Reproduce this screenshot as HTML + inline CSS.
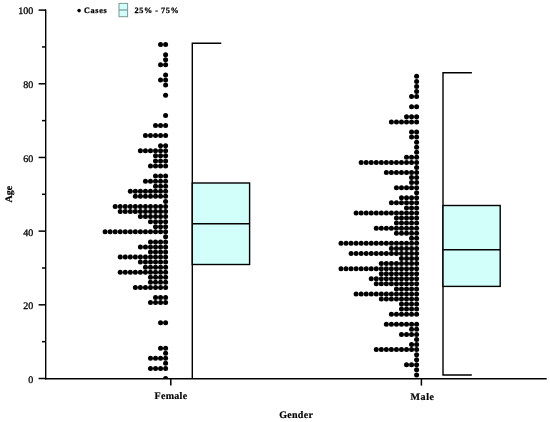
<!DOCTYPE html>
<html><head><meta charset="utf-8"><style>
html,body{margin:0;padding:0;background:#fff;width:550px;height:422px;overflow:hidden}
svg{display:block;text-rendering:geometricPrecision}
</style></head><body>
<svg width="550" height="422" viewBox="0 0 550 422">
<rect width="550" height="422" fill="#fff"/>
<g stroke="#000" stroke-width="1.5" fill="none">
<line x1="45.7" y1="9.5" x2="45.7" y2="379.5" stroke-width="1.4"/>
<line x1="45.2" y1="378.8" x2="546.7" y2="378.8"/>
<line x1="38.6" y1="378.50" x2="46" y2="378.50"/><line x1="42" y1="341.66" x2="46" y2="341.66"/><line x1="38.6" y1="304.82" x2="46" y2="304.82"/><line x1="42" y1="267.98" x2="46" y2="267.98"/><line x1="38.6" y1="231.14" x2="46" y2="231.14"/><line x1="42" y1="194.30" x2="46" y2="194.30"/><line x1="38.6" y1="157.46" x2="46" y2="157.46"/><line x1="42" y1="120.62" x2="46" y2="120.62"/><line x1="38.6" y1="83.78" x2="46" y2="83.78"/><line x1="42" y1="46.94" x2="46" y2="46.94"/><line x1="38.6" y1="10.10" x2="46" y2="10.10"/>
<line x1="170.8" y1="378.8" x2="170.8" y2="385.6"/>
<line x1="421.4" y1="378.8" x2="421.4" y2="385.6"/>
</g>
<g font-family="'Liberation Serif', serif" font-size="10" fill="#000" stroke="#000" stroke-width="0.3">
<text x="33.2" y="382.90" text-anchor="end">0</text><text x="33.2" y="309.22" text-anchor="end">20</text><text x="33.2" y="235.54" text-anchor="end">40</text><text x="33.2" y="161.86" text-anchor="end">60</text><text x="33.2" y="88.18" text-anchor="end">80</text><text x="33.2" y="13.50" text-anchor="end">100</text>
</g>
<g stroke="#000" stroke-width="1.4" fill="none">
<polyline points="221.3,43.2 192.3,43.2 192.3,378.8"/>
<rect x="192.3" y="183.0" width="57.3" height="81.5" fill="#d2fffa"/>
<line x1="192.3" y1="223.7" x2="249.6" y2="223.7"/>
<polyline points="471.9,72.8 443.0,72.8 443.0,375.0 471.8,375.0"/>
<rect x="443.0" y="205.5" width="57.2" height="80.9" fill="#d2fffa"/>
<line x1="443.0" y1="249.7" x2="500.1" y2="249.7"/>
</g>
<defs><clipPath id="pc"><rect x="46" y="0" width="504" height="378.3"/></clipPath></defs><g fill="#000" clip-path="url(#pc)"><circle cx="165.60" cy="44.54" r="2.5"/><circle cx="160.56" cy="44.54" r="2.5"/><circle cx="165.60" cy="54.66" r="2.5"/><circle cx="165.60" cy="59.72" r="2.5"/><circle cx="165.60" cy="64.78" r="2.5"/><circle cx="160.56" cy="64.78" r="2.5"/><circle cx="165.60" cy="74.90" r="2.5"/><circle cx="165.60" cy="79.96" r="2.5"/><circle cx="160.56" cy="79.96" r="2.5"/><circle cx="165.60" cy="85.02" r="2.5"/><circle cx="165.60" cy="95.14" r="2.5"/><circle cx="165.60" cy="115.38" r="2.5"/><circle cx="165.60" cy="125.50" r="2.5"/><circle cx="160.56" cy="125.50" r="2.5"/><circle cx="155.52" cy="125.50" r="2.5"/><circle cx="165.60" cy="135.62" r="2.5"/><circle cx="160.56" cy="135.62" r="2.5"/><circle cx="155.52" cy="135.62" r="2.5"/><circle cx="150.48" cy="135.62" r="2.5"/><circle cx="145.44" cy="135.62" r="2.5"/><circle cx="165.60" cy="145.74" r="2.5"/><circle cx="160.56" cy="145.74" r="2.5"/><circle cx="165.60" cy="150.80" r="2.5"/><circle cx="160.56" cy="150.80" r="2.5"/><circle cx="155.52" cy="150.80" r="2.5"/><circle cx="150.48" cy="150.80" r="2.5"/><circle cx="145.44" cy="150.80" r="2.5"/><circle cx="140.40" cy="150.80" r="2.5"/><circle cx="165.60" cy="155.86" r="2.5"/><circle cx="160.56" cy="155.86" r="2.5"/><circle cx="155.52" cy="155.86" r="2.5"/><circle cx="165.60" cy="160.92" r="2.5"/><circle cx="160.56" cy="160.92" r="2.5"/><circle cx="155.52" cy="160.92" r="2.5"/><circle cx="165.60" cy="165.98" r="2.5"/><circle cx="160.56" cy="165.98" r="2.5"/><circle cx="155.52" cy="165.98" r="2.5"/><circle cx="150.48" cy="165.98" r="2.5"/><circle cx="165.60" cy="176.10" r="2.5"/><circle cx="160.56" cy="176.10" r="2.5"/><circle cx="155.52" cy="176.10" r="2.5"/><circle cx="165.60" cy="181.16" r="2.5"/><circle cx="160.56" cy="181.16" r="2.5"/><circle cx="155.52" cy="181.16" r="2.5"/><circle cx="150.48" cy="181.16" r="2.5"/><circle cx="145.44" cy="181.16" r="2.5"/><circle cx="165.60" cy="186.22" r="2.5"/><circle cx="160.56" cy="186.22" r="2.5"/><circle cx="155.52" cy="186.22" r="2.5"/><circle cx="165.60" cy="191.28" r="2.5"/><circle cx="160.56" cy="191.28" r="2.5"/><circle cx="155.52" cy="191.28" r="2.5"/><circle cx="150.48" cy="191.28" r="2.5"/><circle cx="145.44" cy="191.28" r="2.5"/><circle cx="140.40" cy="191.28" r="2.5"/><circle cx="135.36" cy="191.28" r="2.5"/><circle cx="130.32" cy="191.28" r="2.5"/><circle cx="165.60" cy="196.34" r="2.5"/><circle cx="160.56" cy="196.34" r="2.5"/><circle cx="155.52" cy="196.34" r="2.5"/><circle cx="150.48" cy="196.34" r="2.5"/><circle cx="145.44" cy="196.34" r="2.5"/><circle cx="140.40" cy="196.34" r="2.5"/><circle cx="135.36" cy="196.34" r="2.5"/><circle cx="165.60" cy="201.40" r="2.5"/><circle cx="165.60" cy="206.46" r="2.5"/><circle cx="160.56" cy="206.46" r="2.5"/><circle cx="155.52" cy="206.46" r="2.5"/><circle cx="150.48" cy="206.46" r="2.5"/><circle cx="145.44" cy="206.46" r="2.5"/><circle cx="140.40" cy="206.46" r="2.5"/><circle cx="135.36" cy="206.46" r="2.5"/><circle cx="130.32" cy="206.46" r="2.5"/><circle cx="125.28" cy="206.46" r="2.5"/><circle cx="120.24" cy="206.46" r="2.5"/><circle cx="115.20" cy="206.46" r="2.5"/><circle cx="165.60" cy="211.52" r="2.5"/><circle cx="160.56" cy="211.52" r="2.5"/><circle cx="155.52" cy="211.52" r="2.5"/><circle cx="150.48" cy="211.52" r="2.5"/><circle cx="145.44" cy="211.52" r="2.5"/><circle cx="140.40" cy="211.52" r="2.5"/><circle cx="135.36" cy="211.52" r="2.5"/><circle cx="130.32" cy="211.52" r="2.5"/><circle cx="125.28" cy="211.52" r="2.5"/><circle cx="120.24" cy="211.52" r="2.5"/><circle cx="165.60" cy="216.58" r="2.5"/><circle cx="160.56" cy="216.58" r="2.5"/><circle cx="155.52" cy="216.58" r="2.5"/><circle cx="150.48" cy="216.58" r="2.5"/><circle cx="145.44" cy="216.58" r="2.5"/><circle cx="140.40" cy="216.58" r="2.5"/><circle cx="165.60" cy="221.64" r="2.5"/><circle cx="160.56" cy="221.64" r="2.5"/><circle cx="155.52" cy="221.64" r="2.5"/><circle cx="150.48" cy="221.64" r="2.5"/><circle cx="165.60" cy="226.70" r="2.5"/><circle cx="160.56" cy="226.70" r="2.5"/><circle cx="155.52" cy="226.70" r="2.5"/><circle cx="165.60" cy="231.76" r="2.5"/><circle cx="160.56" cy="231.76" r="2.5"/><circle cx="155.52" cy="231.76" r="2.5"/><circle cx="150.48" cy="231.76" r="2.5"/><circle cx="145.44" cy="231.76" r="2.5"/><circle cx="140.40" cy="231.76" r="2.5"/><circle cx="135.36" cy="231.76" r="2.5"/><circle cx="130.32" cy="231.76" r="2.5"/><circle cx="125.28" cy="231.76" r="2.5"/><circle cx="120.24" cy="231.76" r="2.5"/><circle cx="115.20" cy="231.76" r="2.5"/><circle cx="110.16" cy="231.76" r="2.5"/><circle cx="105.12" cy="231.76" r="2.5"/><circle cx="165.60" cy="236.82" r="2.5"/><circle cx="165.60" cy="241.88" r="2.5"/><circle cx="160.56" cy="241.88" r="2.5"/><circle cx="155.52" cy="241.88" r="2.5"/><circle cx="150.48" cy="241.88" r="2.5"/><circle cx="165.60" cy="246.94" r="2.5"/><circle cx="160.56" cy="246.94" r="2.5"/><circle cx="155.52" cy="246.94" r="2.5"/><circle cx="150.48" cy="246.94" r="2.5"/><circle cx="145.44" cy="246.94" r="2.5"/><circle cx="140.40" cy="246.94" r="2.5"/><circle cx="165.60" cy="252.00" r="2.5"/><circle cx="160.56" cy="252.00" r="2.5"/><circle cx="155.52" cy="252.00" r="2.5"/><circle cx="150.48" cy="252.00" r="2.5"/><circle cx="165.60" cy="257.06" r="2.5"/><circle cx="160.56" cy="257.06" r="2.5"/><circle cx="155.52" cy="257.06" r="2.5"/><circle cx="150.48" cy="257.06" r="2.5"/><circle cx="145.44" cy="257.06" r="2.5"/><circle cx="140.40" cy="257.06" r="2.5"/><circle cx="135.36" cy="257.06" r="2.5"/><circle cx="130.32" cy="257.06" r="2.5"/><circle cx="125.28" cy="257.06" r="2.5"/><circle cx="120.24" cy="257.06" r="2.5"/><circle cx="165.60" cy="262.12" r="2.5"/><circle cx="160.56" cy="262.12" r="2.5"/><circle cx="155.52" cy="262.12" r="2.5"/><circle cx="150.48" cy="262.12" r="2.5"/><circle cx="145.44" cy="262.12" r="2.5"/><circle cx="140.40" cy="262.12" r="2.5"/><circle cx="165.60" cy="267.18" r="2.5"/><circle cx="160.56" cy="267.18" r="2.5"/><circle cx="155.52" cy="267.18" r="2.5"/><circle cx="150.48" cy="267.18" r="2.5"/><circle cx="145.44" cy="267.18" r="2.5"/><circle cx="165.60" cy="272.24" r="2.5"/><circle cx="160.56" cy="272.24" r="2.5"/><circle cx="155.52" cy="272.24" r="2.5"/><circle cx="150.48" cy="272.24" r="2.5"/><circle cx="145.44" cy="272.24" r="2.5"/><circle cx="140.40" cy="272.24" r="2.5"/><circle cx="135.36" cy="272.24" r="2.5"/><circle cx="130.32" cy="272.24" r="2.5"/><circle cx="125.28" cy="272.24" r="2.5"/><circle cx="120.24" cy="272.24" r="2.5"/><circle cx="165.60" cy="277.30" r="2.5"/><circle cx="160.56" cy="277.30" r="2.5"/><circle cx="155.52" cy="277.30" r="2.5"/><circle cx="150.48" cy="277.30" r="2.5"/><circle cx="165.60" cy="282.36" r="2.5"/><circle cx="160.56" cy="282.36" r="2.5"/><circle cx="155.52" cy="282.36" r="2.5"/><circle cx="150.48" cy="282.36" r="2.5"/><circle cx="165.60" cy="287.42" r="2.5"/><circle cx="160.56" cy="287.42" r="2.5"/><circle cx="155.52" cy="287.42" r="2.5"/><circle cx="150.48" cy="287.42" r="2.5"/><circle cx="145.44" cy="287.42" r="2.5"/><circle cx="140.40" cy="287.42" r="2.5"/><circle cx="135.36" cy="287.42" r="2.5"/><circle cx="165.60" cy="297.54" r="2.5"/><circle cx="160.56" cy="297.54" r="2.5"/><circle cx="155.52" cy="297.54" r="2.5"/><circle cx="165.60" cy="302.60" r="2.5"/><circle cx="160.56" cy="302.60" r="2.5"/><circle cx="155.52" cy="302.60" r="2.5"/><circle cx="150.48" cy="302.60" r="2.5"/><circle cx="165.60" cy="322.84" r="2.5"/><circle cx="160.56" cy="322.84" r="2.5"/><circle cx="165.60" cy="348.14" r="2.5"/><circle cx="160.56" cy="348.14" r="2.5"/><circle cx="165.60" cy="353.20" r="2.5"/><circle cx="165.60" cy="358.26" r="2.5"/><circle cx="160.56" cy="358.26" r="2.5"/><circle cx="155.52" cy="358.26" r="2.5"/><circle cx="150.48" cy="358.26" r="2.5"/><circle cx="165.60" cy="363.32" r="2.5"/><circle cx="165.60" cy="368.38" r="2.5"/><circle cx="160.56" cy="368.38" r="2.5"/><circle cx="155.52" cy="368.38" r="2.5"/><circle cx="150.48" cy="368.38" r="2.5"/><circle cx="165.60" cy="378.50" r="2.5"/><circle cx="416.60" cy="76.36" r="2.5"/><circle cx="416.60" cy="81.42" r="2.5"/><circle cx="416.60" cy="86.48" r="2.5"/><circle cx="416.60" cy="91.54" r="2.5"/><circle cx="416.60" cy="96.60" r="2.5"/><circle cx="411.56" cy="96.60" r="2.5"/><circle cx="416.60" cy="106.72" r="2.5"/><circle cx="411.56" cy="106.72" r="2.5"/><circle cx="416.60" cy="116.84" r="2.5"/><circle cx="411.56" cy="116.84" r="2.5"/><circle cx="406.52" cy="116.84" r="2.5"/><circle cx="416.60" cy="121.90" r="2.5"/><circle cx="411.56" cy="121.90" r="2.5"/><circle cx="406.52" cy="121.90" r="2.5"/><circle cx="401.48" cy="121.90" r="2.5"/><circle cx="396.44" cy="121.90" r="2.5"/><circle cx="391.40" cy="121.90" r="2.5"/><circle cx="416.60" cy="132.02" r="2.5"/><circle cx="411.56" cy="132.02" r="2.5"/><circle cx="416.60" cy="137.08" r="2.5"/><circle cx="411.56" cy="137.08" r="2.5"/><circle cx="416.60" cy="142.14" r="2.5"/><circle cx="416.60" cy="147.20" r="2.5"/><circle cx="416.60" cy="152.26" r="2.5"/><circle cx="416.60" cy="157.32" r="2.5"/><circle cx="411.56" cy="157.32" r="2.5"/><circle cx="406.52" cy="157.32" r="2.5"/><circle cx="416.60" cy="162.38" r="2.5"/><circle cx="411.56" cy="162.38" r="2.5"/><circle cx="406.52" cy="162.38" r="2.5"/><circle cx="401.48" cy="162.38" r="2.5"/><circle cx="396.44" cy="162.38" r="2.5"/><circle cx="391.40" cy="162.38" r="2.5"/><circle cx="386.36" cy="162.38" r="2.5"/><circle cx="381.32" cy="162.38" r="2.5"/><circle cx="376.28" cy="162.38" r="2.5"/><circle cx="371.24" cy="162.38" r="2.5"/><circle cx="366.20" cy="162.38" r="2.5"/><circle cx="361.16" cy="162.38" r="2.5"/><circle cx="416.60" cy="167.44" r="2.5"/><circle cx="416.60" cy="172.50" r="2.5"/><circle cx="411.56" cy="172.50" r="2.5"/><circle cx="406.52" cy="172.50" r="2.5"/><circle cx="401.48" cy="172.50" r="2.5"/><circle cx="396.44" cy="172.50" r="2.5"/><circle cx="391.40" cy="172.50" r="2.5"/><circle cx="386.36" cy="172.50" r="2.5"/><circle cx="416.60" cy="177.56" r="2.5"/><circle cx="411.56" cy="177.56" r="2.5"/><circle cx="416.60" cy="182.62" r="2.5"/><circle cx="411.56" cy="182.62" r="2.5"/><circle cx="416.60" cy="187.68" r="2.5"/><circle cx="411.56" cy="187.68" r="2.5"/><circle cx="406.52" cy="187.68" r="2.5"/><circle cx="401.48" cy="187.68" r="2.5"/><circle cx="396.44" cy="187.68" r="2.5"/><circle cx="416.60" cy="192.74" r="2.5"/><circle cx="416.60" cy="197.80" r="2.5"/><circle cx="411.56" cy="197.80" r="2.5"/><circle cx="406.52" cy="197.80" r="2.5"/><circle cx="401.48" cy="197.80" r="2.5"/><circle cx="416.60" cy="202.86" r="2.5"/><circle cx="411.56" cy="202.86" r="2.5"/><circle cx="406.52" cy="202.86" r="2.5"/><circle cx="401.48" cy="202.86" r="2.5"/><circle cx="396.44" cy="202.86" r="2.5"/><circle cx="391.40" cy="202.86" r="2.5"/><circle cx="416.60" cy="207.92" r="2.5"/><circle cx="411.56" cy="207.92" r="2.5"/><circle cx="406.52" cy="207.92" r="2.5"/><circle cx="416.60" cy="212.98" r="2.5"/><circle cx="411.56" cy="212.98" r="2.5"/><circle cx="406.52" cy="212.98" r="2.5"/><circle cx="401.48" cy="212.98" r="2.5"/><circle cx="396.44" cy="212.98" r="2.5"/><circle cx="391.40" cy="212.98" r="2.5"/><circle cx="386.36" cy="212.98" r="2.5"/><circle cx="381.32" cy="212.98" r="2.5"/><circle cx="376.28" cy="212.98" r="2.5"/><circle cx="371.24" cy="212.98" r="2.5"/><circle cx="366.20" cy="212.98" r="2.5"/><circle cx="361.16" cy="212.98" r="2.5"/><circle cx="356.12" cy="212.98" r="2.5"/><circle cx="416.60" cy="218.04" r="2.5"/><circle cx="411.56" cy="218.04" r="2.5"/><circle cx="406.52" cy="218.04" r="2.5"/><circle cx="401.48" cy="218.04" r="2.5"/><circle cx="396.44" cy="218.04" r="2.5"/><circle cx="416.60" cy="223.10" r="2.5"/><circle cx="411.56" cy="223.10" r="2.5"/><circle cx="406.52" cy="223.10" r="2.5"/><circle cx="401.48" cy="223.10" r="2.5"/><circle cx="396.44" cy="223.10" r="2.5"/><circle cx="416.60" cy="228.16" r="2.5"/><circle cx="411.56" cy="228.16" r="2.5"/><circle cx="406.52" cy="228.16" r="2.5"/><circle cx="401.48" cy="228.16" r="2.5"/><circle cx="396.44" cy="228.16" r="2.5"/><circle cx="391.40" cy="228.16" r="2.5"/><circle cx="386.36" cy="228.16" r="2.5"/><circle cx="381.32" cy="228.16" r="2.5"/><circle cx="376.28" cy="228.16" r="2.5"/><circle cx="416.60" cy="233.22" r="2.5"/><circle cx="411.56" cy="233.22" r="2.5"/><circle cx="406.52" cy="233.22" r="2.5"/><circle cx="401.48" cy="233.22" r="2.5"/><circle cx="396.44" cy="233.22" r="2.5"/><circle cx="416.60" cy="238.28" r="2.5"/><circle cx="411.56" cy="238.28" r="2.5"/><circle cx="416.60" cy="243.34" r="2.5"/><circle cx="411.56" cy="243.34" r="2.5"/><circle cx="406.52" cy="243.34" r="2.5"/><circle cx="401.48" cy="243.34" r="2.5"/><circle cx="396.44" cy="243.34" r="2.5"/><circle cx="391.40" cy="243.34" r="2.5"/><circle cx="386.36" cy="243.34" r="2.5"/><circle cx="381.32" cy="243.34" r="2.5"/><circle cx="376.28" cy="243.34" r="2.5"/><circle cx="371.24" cy="243.34" r="2.5"/><circle cx="366.20" cy="243.34" r="2.5"/><circle cx="361.16" cy="243.34" r="2.5"/><circle cx="356.12" cy="243.34" r="2.5"/><circle cx="351.08" cy="243.34" r="2.5"/><circle cx="346.04" cy="243.34" r="2.5"/><circle cx="341.00" cy="243.34" r="2.5"/><circle cx="416.60" cy="248.40" r="2.5"/><circle cx="411.56" cy="248.40" r="2.5"/><circle cx="406.52" cy="248.40" r="2.5"/><circle cx="401.48" cy="248.40" r="2.5"/><circle cx="396.44" cy="248.40" r="2.5"/><circle cx="391.40" cy="248.40" r="2.5"/><circle cx="416.60" cy="253.46" r="2.5"/><circle cx="411.56" cy="253.46" r="2.5"/><circle cx="406.52" cy="253.46" r="2.5"/><circle cx="401.48" cy="253.46" r="2.5"/><circle cx="396.44" cy="253.46" r="2.5"/><circle cx="391.40" cy="253.46" r="2.5"/><circle cx="386.36" cy="253.46" r="2.5"/><circle cx="381.32" cy="253.46" r="2.5"/><circle cx="376.28" cy="253.46" r="2.5"/><circle cx="371.24" cy="253.46" r="2.5"/><circle cx="366.20" cy="253.46" r="2.5"/><circle cx="361.16" cy="253.46" r="2.5"/><circle cx="356.12" cy="253.46" r="2.5"/><circle cx="351.08" cy="253.46" r="2.5"/><circle cx="416.60" cy="258.52" r="2.5"/><circle cx="411.56" cy="258.52" r="2.5"/><circle cx="406.52" cy="258.52" r="2.5"/><circle cx="401.48" cy="258.52" r="2.5"/><circle cx="416.60" cy="263.58" r="2.5"/><circle cx="411.56" cy="263.58" r="2.5"/><circle cx="406.52" cy="263.58" r="2.5"/><circle cx="401.48" cy="263.58" r="2.5"/><circle cx="396.44" cy="263.58" r="2.5"/><circle cx="391.40" cy="263.58" r="2.5"/><circle cx="386.36" cy="263.58" r="2.5"/><circle cx="381.32" cy="263.58" r="2.5"/><circle cx="416.60" cy="268.64" r="2.5"/><circle cx="411.56" cy="268.64" r="2.5"/><circle cx="406.52" cy="268.64" r="2.5"/><circle cx="401.48" cy="268.64" r="2.5"/><circle cx="396.44" cy="268.64" r="2.5"/><circle cx="391.40" cy="268.64" r="2.5"/><circle cx="386.36" cy="268.64" r="2.5"/><circle cx="381.32" cy="268.64" r="2.5"/><circle cx="376.28" cy="268.64" r="2.5"/><circle cx="371.24" cy="268.64" r="2.5"/><circle cx="366.20" cy="268.64" r="2.5"/><circle cx="361.16" cy="268.64" r="2.5"/><circle cx="356.12" cy="268.64" r="2.5"/><circle cx="351.08" cy="268.64" r="2.5"/><circle cx="346.04" cy="268.64" r="2.5"/><circle cx="341.00" cy="268.64" r="2.5"/><circle cx="416.60" cy="273.70" r="2.5"/><circle cx="411.56" cy="273.70" r="2.5"/><circle cx="406.52" cy="273.70" r="2.5"/><circle cx="401.48" cy="273.70" r="2.5"/><circle cx="396.44" cy="273.70" r="2.5"/><circle cx="391.40" cy="273.70" r="2.5"/><circle cx="386.36" cy="273.70" r="2.5"/><circle cx="381.32" cy="273.70" r="2.5"/><circle cx="416.60" cy="278.76" r="2.5"/><circle cx="411.56" cy="278.76" r="2.5"/><circle cx="406.52" cy="278.76" r="2.5"/><circle cx="401.48" cy="278.76" r="2.5"/><circle cx="396.44" cy="278.76" r="2.5"/><circle cx="391.40" cy="278.76" r="2.5"/><circle cx="386.36" cy="278.76" r="2.5"/><circle cx="381.32" cy="278.76" r="2.5"/><circle cx="376.28" cy="278.76" r="2.5"/><circle cx="371.24" cy="278.76" r="2.5"/><circle cx="416.60" cy="283.82" r="2.5"/><circle cx="411.56" cy="283.82" r="2.5"/><circle cx="406.52" cy="283.82" r="2.5"/><circle cx="401.48" cy="283.82" r="2.5"/><circle cx="396.44" cy="283.82" r="2.5"/><circle cx="391.40" cy="283.82" r="2.5"/><circle cx="386.36" cy="283.82" r="2.5"/><circle cx="381.32" cy="283.82" r="2.5"/><circle cx="376.28" cy="283.82" r="2.5"/><circle cx="416.60" cy="288.88" r="2.5"/><circle cx="411.56" cy="288.88" r="2.5"/><circle cx="406.52" cy="288.88" r="2.5"/><circle cx="401.48" cy="288.88" r="2.5"/><circle cx="396.44" cy="288.88" r="2.5"/><circle cx="416.60" cy="293.94" r="2.5"/><circle cx="411.56" cy="293.94" r="2.5"/><circle cx="406.52" cy="293.94" r="2.5"/><circle cx="401.48" cy="293.94" r="2.5"/><circle cx="396.44" cy="293.94" r="2.5"/><circle cx="391.40" cy="293.94" r="2.5"/><circle cx="386.36" cy="293.94" r="2.5"/><circle cx="381.32" cy="293.94" r="2.5"/><circle cx="376.28" cy="293.94" r="2.5"/><circle cx="371.24" cy="293.94" r="2.5"/><circle cx="366.20" cy="293.94" r="2.5"/><circle cx="361.16" cy="293.94" r="2.5"/><circle cx="356.12" cy="293.94" r="2.5"/><circle cx="416.60" cy="299.00" r="2.5"/><circle cx="411.56" cy="299.00" r="2.5"/><circle cx="406.52" cy="299.00" r="2.5"/><circle cx="401.48" cy="299.00" r="2.5"/><circle cx="396.44" cy="299.00" r="2.5"/><circle cx="391.40" cy="299.00" r="2.5"/><circle cx="386.36" cy="299.00" r="2.5"/><circle cx="381.32" cy="299.00" r="2.5"/><circle cx="416.60" cy="304.06" r="2.5"/><circle cx="411.56" cy="304.06" r="2.5"/><circle cx="406.52" cy="304.06" r="2.5"/><circle cx="401.48" cy="304.06" r="2.5"/><circle cx="416.60" cy="309.12" r="2.5"/><circle cx="411.56" cy="309.12" r="2.5"/><circle cx="406.52" cy="309.12" r="2.5"/><circle cx="401.48" cy="309.12" r="2.5"/><circle cx="416.60" cy="314.18" r="2.5"/><circle cx="411.56" cy="314.18" r="2.5"/><circle cx="406.52" cy="314.18" r="2.5"/><circle cx="401.48" cy="314.18" r="2.5"/><circle cx="396.44" cy="314.18" r="2.5"/><circle cx="391.40" cy="314.18" r="2.5"/><circle cx="416.60" cy="324.30" r="2.5"/><circle cx="411.56" cy="324.30" r="2.5"/><circle cx="406.52" cy="324.30" r="2.5"/><circle cx="401.48" cy="324.30" r="2.5"/><circle cx="396.44" cy="324.30" r="2.5"/><circle cx="391.40" cy="324.30" r="2.5"/><circle cx="386.36" cy="324.30" r="2.5"/><circle cx="416.60" cy="329.36" r="2.5"/><circle cx="411.56" cy="329.36" r="2.5"/><circle cx="416.60" cy="334.42" r="2.5"/><circle cx="411.56" cy="334.42" r="2.5"/><circle cx="406.52" cy="334.42" r="2.5"/><circle cx="401.48" cy="334.42" r="2.5"/><circle cx="416.60" cy="339.48" r="2.5"/><circle cx="416.60" cy="344.54" r="2.5"/><circle cx="411.56" cy="344.54" r="2.5"/><circle cx="416.60" cy="349.60" r="2.5"/><circle cx="411.56" cy="349.60" r="2.5"/><circle cx="406.52" cy="349.60" r="2.5"/><circle cx="401.48" cy="349.60" r="2.5"/><circle cx="396.44" cy="349.60" r="2.5"/><circle cx="391.40" cy="349.60" r="2.5"/><circle cx="386.36" cy="349.60" r="2.5"/><circle cx="381.32" cy="349.60" r="2.5"/><circle cx="376.28" cy="349.60" r="2.5"/><circle cx="416.60" cy="354.66" r="2.5"/><circle cx="416.60" cy="359.72" r="2.5"/><circle cx="416.60" cy="364.78" r="2.5"/><circle cx="411.56" cy="364.78" r="2.5"/><circle cx="406.52" cy="364.78" r="2.5"/><circle cx="416.60" cy="369.84" r="2.5"/><circle cx="416.60" cy="374.90" r="2.5"/></g>
<g font-family="'Liberation Serif', serif" font-weight="bold" font-size="10" fill="#000" stroke="#000" stroke-width="0.2">
<text x="171" y="399.3" text-anchor="middle" letter-spacing="0.3">Female</text>
<text x="422.6" y="400.2" text-anchor="middle" letter-spacing="0.6">Male</text>
<text x="296.2" y="418.1" text-anchor="middle" letter-spacing="0.28">Gender</text>
<text transform="translate(12,194.2) rotate(-90)" text-anchor="middle">Age</text>
</g>
<g font-family="'Liberation Serif', serif" font-weight="bold" font-size="8.2" fill="#000" stroke="#000" stroke-width="0.25">
<circle cx="79.1" cy="10.6" r="1.8" stroke="none"/>
<text x="84" y="12.9" letter-spacing="0.65">Cases</text>
<text x="134.6" y="13.1" letter-spacing="0.55">25% - 75%</text>
</g>
<g stroke="#7a9896" stroke-width="1" fill="#d2fffa">
<rect x="119.0" y="3.4" width="8.6" height="13.3"/>
<line x1="119.0" y1="10.0" x2="127.6" y2="10.0" stroke-width="1.2"/>
</g>
</svg>
</body></html>
